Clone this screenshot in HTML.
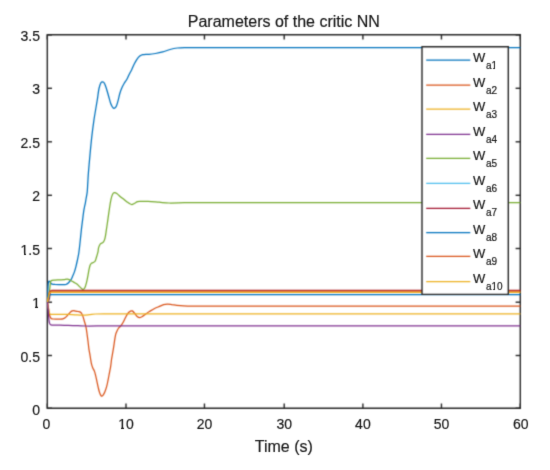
<!DOCTYPE html>
<html><head><meta charset="utf-8"><style>
html,body{margin:0;padding:0;background:#fff;width:550px;height:470px;overflow:hidden}
svg{display:block}
text{font-family:"Liberation Sans",Arial,sans-serif;fill:#1a1a1a;stroke:#1a1a1a;stroke-width:0.2px}
.tk{font-size:14px}
.lg{font-size:13px}
.sb{font-size:10px}
</style></head><body>
<svg width="550" height="470" viewBox="0 0 550 470">
<defs><filter id="bl" color-interpolation-filters="sRGB" filterUnits="userSpaceOnUse" x="0" y="0" width="550" height="470"><feConvolveMatrix order="3" kernelMatrix="0.0289 0.1122 0.0289 0.1122 0.4356 0.1122 0.0289 0.1122 0.0289" preserveAlpha="false" edgeMode="none"/></filter><filter id="tb" color-interpolation-filters="sRGB" filterUnits="userSpaceOnUse" x="0" y="0" width="550" height="470"><feConvolveMatrix order="3" kernelMatrix="0.0100 0.0800 0.0100 0.0800 0.6400 0.0800 0.0100 0.0800 0.0100" preserveAlpha="false" edgeMode="none"/></filter></defs>
<rect x="0" y="0" width="550" height="470" fill="#fff"/>
<g filter="url(#bl)">
<g stroke="#262626" stroke-width="1.4"><line x1="47.30" y1="408.3" x2="47.30" y2="403.5" /><line x1="47.30" y1="34.7" x2="47.30" y2="39.5" /><line x1="126.00" y1="408.3" x2="126.00" y2="403.5" /><line x1="126.00" y1="34.7" x2="126.00" y2="39.5" /><line x1="204.45" y1="408.3" x2="204.45" y2="403.5" /><line x1="204.45" y1="34.7" x2="204.45" y2="39.5" /><line x1="284.20" y1="408.3" x2="284.20" y2="403.5" /><line x1="284.20" y1="34.7" x2="284.20" y2="39.5" /><line x1="362.90" y1="408.3" x2="362.90" y2="403.5" /><line x1="362.90" y1="34.7" x2="362.90" y2="39.5" /><line x1="441.45" y1="408.3" x2="441.45" y2="403.5" /><line x1="441.45" y1="34.7" x2="441.45" y2="39.5" /><line x1="520.30" y1="408.3" x2="520.30" y2="403.5" /><line x1="520.30" y1="34.7" x2="520.30" y2="39.5" /><line x1="47.3" y1="408.20" x2="52.0" y2="408.20" /><line x1="520.3" y1="408.20" x2="515.6" y2="408.20" /><line x1="47.3" y1="355.50" x2="52.0" y2="355.50" /><line x1="520.3" y1="355.50" x2="515.6" y2="355.50" /><line x1="47.3" y1="302.20" x2="52.0" y2="302.20" /><line x1="520.3" y1="302.20" x2="515.6" y2="302.20" /><line x1="47.3" y1="248.50" x2="52.0" y2="248.50" /><line x1="520.3" y1="248.50" x2="515.6" y2="248.50" /><line x1="47.3" y1="195.30" x2="52.0" y2="195.30" /><line x1="520.3" y1="195.30" x2="515.6" y2="195.30" /><line x1="47.3" y1="141.80" x2="52.0" y2="141.80" /><line x1="520.3" y1="141.80" x2="515.6" y2="141.80" /><line x1="47.3" y1="88.30" x2="52.0" y2="88.30" /><line x1="520.3" y1="88.30" x2="515.6" y2="88.30" /><line x1="47.3" y1="34.90" x2="52.0" y2="34.90" /><line x1="520.3" y1="34.90" x2="515.6" y2="34.90" /></g>
<path d="M47.3,34.7 H520.3 V408.3 H47.3 Z" fill="none" stroke="#262626" stroke-width="1.4" stroke-linejoin="miter"/>
<g><path d="M47.50,302.00 C47.58,299.33 47.66,296.67 47.75,294.00 C47.83,291.67 47.87,289.33 48.00,287.00 C48.08,285.50 48.13,283.96 48.40,282.50 C48.49,281.99 48.79,281.29 49.10,281.10 C49.29,280.99 49.71,281.36 49.90,281.60 C50.27,282.06 50.41,282.74 50.80,283.20 C51.11,283.57 51.54,283.96 52.00,284.10 C52.94,284.39 53.99,284.44 55.00,284.50 C56.66,284.60 58.33,284.58 60.00,284.60 C61.33,284.61 62.67,284.62 64.00,284.60 C64.67,284.59 65.40,284.72 66.00,284.50 C66.83,284.19 67.63,283.61 68.30,283.00 C69.20,282.18 70.04,281.23 70.70,280.20 C71.47,278.99 72.02,277.62 72.60,276.30 C73.28,274.76 73.96,273.20 74.50,271.60 C75.09,269.86 75.55,268.08 76.00,266.30 C76.52,264.25 76.96,262.17 77.40,260.10 C77.90,257.74 78.46,255.39 78.80,253.00 C79.42,248.69 79.82,244.34 80.30,240.00 C80.65,236.80 80.94,233.60 81.30,230.40 C81.70,226.86 82.16,223.33 82.60,219.80 C82.96,216.97 83.28,214.13 83.70,211.30 C83.91,209.86 84.21,208.43 84.50,207.00 C84.78,205.60 85.14,204.21 85.40,202.80 C85.67,201.37 85.86,199.93 86.10,198.50 C86.46,196.37 86.96,194.25 87.20,192.10 C87.49,189.51 87.54,186.90 87.70,184.30 C87.94,180.53 88.11,176.76 88.40,173.00 C88.91,166.53 89.50,160.06 90.10,153.60 C90.63,147.93 91.15,142.26 91.80,136.60 C92.45,130.96 93.20,125.32 94.00,119.70 C94.44,116.62 94.99,113.57 95.50,110.50 C96.12,106.73 96.80,102.97 97.40,99.20 C97.97,95.64 98.25,92.01 99.00,88.50 C99.42,86.55 100.00,84.48 100.90,82.80 C101.20,82.25 102.06,81.74 102.60,81.80 C103.23,81.87 104.05,82.55 104.40,83.20 C105.38,85.02 105.95,87.17 106.60,89.20 C107.38,91.61 108.00,94.07 108.70,96.50 C109.40,98.93 109.92,101.44 110.80,103.80 C111.32,105.18 112.02,106.62 112.90,107.70 C113.22,108.09 113.99,108.38 114.40,108.20 C115.12,107.88 115.90,107.01 116.30,106.20 C117.10,104.57 117.51,102.69 118.00,100.90 C118.67,98.45 119.08,95.93 119.80,93.50 C120.38,91.56 121.10,89.66 121.90,87.80 C122.53,86.32 123.29,84.89 124.10,83.50 C124.96,82.02 126.07,80.69 126.90,79.20 C127.80,77.59 128.47,75.85 129.30,74.20 C130.14,72.52 131.08,70.89 131.90,69.20 C132.81,67.32 133.56,65.36 134.50,63.50 C135.23,62.06 135.97,60.60 136.90,59.30 C137.73,58.14 138.70,56.99 139.80,56.10 C140.60,55.46 141.61,54.99 142.60,54.70 C143.68,54.39 144.86,54.35 146.00,54.30 C147.00,54.25 148.01,54.48 149.00,54.40 C151.17,54.22 153.35,53.89 155.50,53.50 C157.92,53.06 160.33,52.55 162.70,51.90 C165.17,51.22 167.53,50.16 170.00,49.50 C172.40,48.86 174.84,48.32 177.30,48.00 C179.68,47.69 182.10,47.64 184.50,47.60 C189.66,47.51 194.83,47.60 200.00,47.60 L520.40,47.60" stroke="#0072BD" stroke-width="1.25" fill="none" stroke-linejoin="round"/><path d="M47.50,302.00 C47.73,303.33 48.00,304.66 48.20,306.00 C48.50,307.99 48.66,310.01 49.00,312.00 C49.26,313.51 49.51,315.06 50.00,316.50 C50.25,317.23 50.64,318.04 51.20,318.50 C51.64,318.87 52.38,318.94 53.00,319.00 C54.32,319.14 55.67,319.08 57.00,319.10 C58.00,319.11 59.00,319.13 60.00,319.10 C60.97,319.07 61.98,319.13 62.90,318.90 C63.68,318.70 64.45,318.29 65.10,317.80 C65.92,317.19 66.59,316.36 67.30,315.60 C68.06,314.79 68.73,313.90 69.50,313.10 C70.17,312.40 70.81,311.61 71.60,311.10 C72.14,310.75 72.86,310.50 73.50,310.50 C74.20,310.50 74.89,310.95 75.60,311.10 C76.46,311.28 77.34,311.32 78.20,311.50 C78.94,311.65 79.79,311.71 80.40,312.10 C80.99,312.48 81.43,313.17 81.80,313.80 C82.27,314.61 82.59,315.51 82.90,316.40 C83.32,317.58 83.64,318.80 84.00,320.00 C84.50,321.67 85.07,323.32 85.50,325.00 C85.87,326.42 86.16,327.86 86.40,329.30 C86.73,331.26 86.94,333.23 87.20,335.20 C87.50,337.47 87.82,339.73 88.10,342.00 C88.38,344.26 88.58,346.54 88.90,348.80 C89.14,350.51 89.52,352.20 89.80,353.90 C90.08,355.60 90.32,357.30 90.60,359.00 C90.85,360.54 91.04,362.09 91.40,363.60 C91.74,364.99 92.17,366.37 92.70,367.70 C93.17,368.87 93.95,369.92 94.40,371.10 C94.92,372.45 95.25,373.89 95.60,375.30 C96.09,377.29 96.47,379.30 96.90,381.30 C97.33,383.30 97.73,385.31 98.20,387.30 C98.60,389.01 98.96,390.74 99.50,392.40 C99.83,393.40 100.25,394.42 100.80,395.30 C101.05,395.69 101.54,396.26 101.90,396.20 C102.38,396.12 102.95,395.42 103.30,394.90 C103.99,393.86 104.53,392.67 105.00,391.50 C105.66,389.84 106.23,388.13 106.70,386.40 C107.23,384.43 107.59,382.41 108.00,380.40 C108.46,378.14 108.87,375.87 109.30,373.60 C109.73,371.33 110.24,369.08 110.60,366.80 C111.01,364.21 111.21,361.59 111.60,359.00 C111.94,356.72 112.42,354.47 112.80,352.20 C113.18,349.94 113.55,347.67 113.90,345.40 C114.25,343.14 114.53,340.86 114.90,338.60 C115.13,337.19 115.32,335.77 115.70,334.40 C116.02,333.24 116.49,332.10 117.00,331.00 C117.49,329.96 118.03,328.92 118.70,328.00 C119.17,327.36 119.89,326.92 120.40,326.30 C121.19,325.35 121.97,324.37 122.60,323.30 C123.64,321.53 124.42,319.61 125.40,317.80 C126.29,316.14 127.08,314.37 128.20,312.90 C128.78,312.14 129.66,311.52 130.50,311.10 C130.99,310.85 131.73,310.68 132.20,310.90 C133.00,311.28 133.66,312.18 134.30,312.90 C135.29,314.01 135.99,315.47 137.10,316.40 C137.86,317.03 138.97,317.60 139.90,317.60 C140.80,317.60 141.77,316.92 142.60,316.40 C143.74,315.69 144.70,314.68 145.80,313.90 C147.10,312.98 148.44,312.13 149.80,311.30 C151.38,310.33 152.95,309.33 154.60,308.50 C156.18,307.70 157.86,307.09 159.50,306.40 C160.86,305.82 162.19,305.09 163.60,304.70 C164.85,304.36 166.20,304.22 167.50,304.20 C168.86,304.18 170.24,304.44 171.60,304.60 C173.34,304.81 175.06,305.12 176.80,305.30 C179.03,305.52 181.26,305.70 183.50,305.80 C186.70,305.94 189.90,305.98 193.10,306.00 C198.73,306.04 204.37,306.00 210.00,306.00 L520.40,306.00" stroke="#D95319" stroke-width="1.25" fill="none" stroke-linejoin="round"/><path d="M47.50,302.00 C47.73,303.67 47.94,305.34 48.20,307.00 C48.44,308.57 48.64,310.16 49.00,311.70 C49.18,312.46 49.37,313.34 49.80,313.90 C50.03,314.20 50.58,314.28 51.00,314.30 C53.98,314.42 57.00,314.28 60.00,314.30 C62.73,314.32 65.47,314.31 68.20,314.40 C70.47,314.48 72.73,314.69 75.00,314.80 C77.57,314.92 80.13,315.12 82.70,315.10 C84.80,315.08 86.90,314.88 89.00,314.70 C91.17,314.51 93.32,314.08 95.50,314.00 C100.32,313.82 105.17,313.91 110.00,313.90 C123.33,313.88 136.67,313.90 150.00,313.90 C166.67,313.90 183.33,313.90 200.00,313.90 L520.40,313.90" stroke="#EDB120" stroke-width="1.25" fill="none" stroke-linejoin="round"/><path d="M47.50,302.00 C47.73,304.67 47.98,307.33 48.20,310.00 C48.42,312.67 48.54,315.34 48.80,318.00 C48.97,319.74 49.06,321.55 49.50,323.20 C49.66,323.81 50.12,324.44 50.60,324.80 C50.95,325.07 51.52,325.08 52.00,325.10 C54.66,325.21 57.33,325.15 60.00,325.20 C62.73,325.25 65.47,325.32 68.20,325.40 C71.47,325.49 74.73,325.59 78.00,325.70 C80.80,325.79 83.60,325.98 86.40,326.00 C92.43,326.05 98.47,325.91 104.50,325.90 C119.67,325.88 134.83,325.90 150.00,325.90 C166.67,325.90 183.33,325.90 200.00,325.90 L520.40,325.90" stroke="#7E2F8E" stroke-width="1.25" fill="none" stroke-linejoin="round"/><path d="M47.50,302.00 C47.80,300.50 48.12,299.00 48.40,297.50 C48.72,295.84 49.05,294.17 49.30,292.50 C49.55,290.84 49.71,289.17 49.90,287.50 C50.07,286.00 50.15,284.48 50.40,283.00 C50.52,282.28 50.65,281.49 51.00,280.90 C51.19,280.59 51.63,280.37 52.00,280.30 C52.96,280.11 54.00,280.15 55.00,280.10 C56.67,280.02 58.33,279.97 60.00,279.90 C61.33,279.84 62.67,279.83 64.00,279.70 C65.11,279.59 66.22,279.11 67.30,279.20 C68.29,279.28 69.27,279.77 70.20,280.20 C71.37,280.74 72.47,281.46 73.60,282.10 C74.70,282.73 75.90,283.23 76.90,284.00 C77.97,284.83 78.79,285.98 79.80,286.90 C80.73,287.75 81.68,289.00 82.70,289.30 C83.28,289.47 84.27,288.89 84.60,288.30 C85.53,286.65 85.99,284.53 86.50,282.60 C87.09,280.40 87.47,278.14 87.90,275.90 C88.33,273.67 88.64,271.42 89.10,269.20 C89.37,267.89 89.63,266.54 90.10,265.30 C90.36,264.61 90.77,263.88 91.30,263.40 C91.80,262.95 92.59,262.84 93.20,262.50 C93.85,262.14 94.74,261.91 95.10,261.30 C95.87,259.98 96.12,258.24 96.60,256.70 C97.09,255.11 97.64,253.52 98.00,251.90 C98.31,250.49 98.19,248.97 98.60,247.60 C98.99,246.27 99.54,244.82 100.40,243.80 C101.04,243.05 102.46,243.04 103.10,242.30 C103.96,241.31 104.56,239.92 104.90,238.60 C105.66,235.72 105.94,232.67 106.40,229.70 C106.94,226.24 107.40,222.77 107.90,219.30 C108.40,215.80 108.86,212.29 109.40,208.80 C109.86,205.83 110.26,202.83 110.90,199.90 C111.32,197.97 111.73,195.89 112.60,194.20 C112.96,193.49 113.88,192.80 114.60,192.70 C115.28,192.60 116.15,193.16 116.80,193.60 C117.88,194.33 118.78,195.36 119.80,196.20 C121.01,197.19 122.26,198.14 123.50,199.10 C125.00,200.27 126.43,201.54 128.00,202.60 C129.10,203.34 130.30,204.39 131.50,204.50 C132.54,204.59 133.66,203.69 134.70,203.20 C135.66,202.75 136.51,202.03 137.50,201.70 C138.28,201.43 139.16,201.43 140.00,201.40 C142.73,201.30 145.47,201.19 148.20,201.30 C151.84,201.45 155.47,201.90 159.10,202.20 C162.43,202.47 165.76,202.93 169.10,203.00 C174.23,203.10 179.37,202.75 184.50,202.70 C189.67,202.65 194.83,202.70 200.00,202.70 L520.40,202.70" stroke="#77AC30" stroke-width="1.25" fill="none" stroke-linejoin="round"/><path d="M47.50,302.00 C47.87,301.60 48.34,301.26 48.60,300.80 C48.97,300.13 49.22,299.36 49.40,298.60 C49.64,297.59 49.71,296.53 49.85,295.50 C50.01,294.33 50.02,293.12 50.30,292.00 C50.44,291.46 50.70,290.81 51.10,290.50 C51.43,290.24 52.03,290.31 52.50,290.30 C55.00,290.24 57.50,290.30 60.00,290.30 C106.67,290.30 153.33,290.30 200.00,290.30 L520.40,290.30" stroke="#A2142F" stroke-width="1.25" fill="none" stroke-linejoin="round"/><path d="M47.50,302.00 C47.80,301.20 48.13,300.41 48.40,299.60 C48.69,298.74 48.94,297.87 49.20,297.00 C49.38,296.40 49.42,295.72 49.70,295.20 C49.85,294.92 50.20,294.71 50.50,294.60 C50.80,294.49 51.17,294.55 51.50,294.55 C54.33,294.54 57.17,294.55 60.00,294.55 C106.67,294.55 153.33,294.55 200.00,294.55 L520.40,294.55" stroke="#0072BD" stroke-width="1.25" fill="none" stroke-linejoin="round"/><path d="M47.50,302.00 C47.73,300.67 47.97,299.33 48.20,298.00 C48.40,296.83 48.57,295.66 48.80,294.50 C48.94,293.79 49.02,293.04 49.30,292.40 C49.48,291.99 49.84,291.59 50.20,291.35 C50.47,291.17 50.86,291.16 51.20,291.15 C54.13,291.09 57.07,291.15 60.00,291.15 C106.67,291.15 153.33,291.15 200.00,291.15 L520.40,291.15" stroke="#D95319" stroke-width="1.25" fill="none" stroke-linejoin="round"/><path d="M47.50,302.00 C47.77,300.83 48.06,299.67 48.30,298.50 C48.53,297.41 48.66,296.29 48.90,295.20 C49.06,294.49 49.17,293.70 49.50,293.10 C49.67,292.80 50.07,292.61 50.40,292.50 C50.70,292.40 51.07,292.45 51.40,292.45 C54.27,292.44 57.13,292.45 60.00,292.45 C106.67,292.45 153.33,292.45 200.00,292.45 L520.40,292.45" stroke="#EDB120" stroke-width="1.25" fill="none" stroke-linejoin="round"/></g>
<path d="M422.0,46.7 H508.3 V294.4 H422.0 Z" fill="#fff" stroke="#262626" stroke-width="1.4"/><line x1="426.2" y1="60.00" x2="470.3" y2="60.00" stroke="#0072BD" stroke-width="1.25"/><line x1="426.2" y1="85.10" x2="470.3" y2="85.10" stroke="#D95319" stroke-width="1.25"/><line x1="426.2" y1="109.00" x2="470.3" y2="109.00" stroke="#EDB120" stroke-width="1.25"/><line x1="426.2" y1="134.30" x2="470.3" y2="134.30" stroke="#7E2F8E" stroke-width="1.25"/><line x1="426.2" y1="158.40" x2="470.3" y2="158.40" stroke="#77AC30" stroke-width="1.25"/><line x1="426.2" y1="183.30" x2="470.3" y2="183.30" stroke="#4DBEEE" stroke-width="1.25"/><line x1="426.2" y1="208.40" x2="470.3" y2="208.40" stroke="#A2142F" stroke-width="1.25"/><line x1="426.2" y1="232.50" x2="470.3" y2="232.50" stroke="#0072BD" stroke-width="1.25"/><line x1="426.2" y1="256.40" x2="470.3" y2="256.40" stroke="#D95319" stroke-width="1.25"/><line x1="426.2" y1="281.50" x2="470.3" y2="281.50" stroke="#EDB120" stroke-width="1.25"/>
</g>
<g filter="url(#tb)">
<text x="473" y="62.20" class="lg">W</text><text x="486.0" y="69.20" class="sb">a1</text><text x="473" y="86.68" class="lg">W</text><text x="486.0" y="93.68" class="sb">a2</text><text x="473" y="111.16" class="lg">W</text><text x="486.0" y="118.16" class="sb">a3</text><text x="473" y="135.64" class="lg">W</text><text x="486.0" y="142.64" class="sb">a4</text><text x="473" y="160.12" class="lg">W</text><text x="486.0" y="167.12" class="sb">a5</text><text x="473" y="184.60" class="lg">W</text><text x="486.0" y="191.60" class="sb">a6</text><text x="473" y="209.08" class="lg">W</text><text x="486.0" y="216.08" class="sb">a7</text><text x="473" y="233.56" class="lg">W</text><text x="486.0" y="240.56" class="sb">a8</text><text x="473" y="258.04" class="lg">W</text><text x="486.0" y="265.04" class="sb">a9</text><text x="473" y="282.52" class="lg">W</text><text x="486.0" y="289.52" class="sb">a10</text>
<g class="tk"><text x="46.30" y="429" text-anchor="middle">0</text><text x="126.00" y="429" text-anchor="middle">10</text><text x="204.45" y="429" text-anchor="middle">20</text><text x="284.20" y="429" text-anchor="middle">30</text><text x="362.90" y="429" text-anchor="middle">40</text><text x="441.45" y="429" text-anchor="middle">50</text><text x="520.80" y="429" text-anchor="middle">60</text><text x="40" y="415.00" text-anchor="end">0</text><text x="40" y="362.00" text-anchor="end">0.5</text><text x="40" y="308.00" text-anchor="end">1</text><text x="40" y="255.00" text-anchor="end">1.5</text><text x="40" y="201.00" text-anchor="end">2</text><text x="40" y="148.00" text-anchor="end">2.5</text><text x="40" y="94.00" text-anchor="end">3</text><text x="40" y="41.00" text-anchor="end">3.5</text></g>
<text x="283.8" y="26.6" text-anchor="middle" style="font-size:16px">Parameters of the critic NN</text>
<g fill="#fff"><rect x="33" y="306" width="2" height="2"/><rect x="38" y="306" width="2" height="2"/><rect x="21" y="253" width="3" height="2"/><rect x="26" y="253" width="2" height="2"/><rect x="119" y="427" width="2" height="2"/><rect x="124" y="427" width="2" height="2"/><rect x="492" y="68" width="1" height="1"/><rect x="495" y="68" width="2" height="1"/><rect x="492" y="289" width="1" height="1"/><rect x="495" y="289" width="2" height="1"/></g>

<text x="283.8" y="451.8" text-anchor="middle" style="font-size:16px">Time (s)</text>
</g>
</svg>
</body></html>
